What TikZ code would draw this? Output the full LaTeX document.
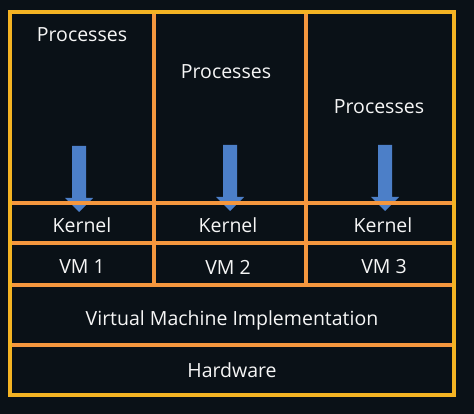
\documentclass[tikz,border=0pt]{standalone}
\usepackage{fontspec}
\setmainfont{Open Sans}
\definecolor{bg}{HTML}{0A1117}
\definecolor{frameY}{HTML}{F4B323}
\definecolor{lineO}{HTML}{F5973E}
\definecolor{arrowB}{HTML}{4C7FC8}
\tikzset{
  lbl/.style={text=white!93!gray, font=\fontsize{19.5}{22}\selectfont, inner sep=0pt},
  divline/.style={lineO, line width=3.5pt},
  downarrow/.pic={\fill[arrowB] (-7,-66) -- (7,-66) -- (7,-14) -- (14,-14) -- (0,0) -- (-14,-14) -- (-7,-14) -- cycle;},
}
\begin{document}
\begin{tikzpicture}[x=1pt,y=-1pt]
\fill[bg] (0,0) rectangle (474,414);
\useasboundingbox (0,0) rectangle (474,414);
% arrows (drawn beneath lines)
\pic (a1) at (79,212) {downarrow};
\pic (a2) at (230,211) {downarrow};
\pic (a3) at (385,211) {downarrow};
% inner lines
\draw[divline] (154,12) -- (154,285);
\draw[divline] (306,12) -- (306,285);
\draw[divline] (10,203) -- (454,203);
\draw[divline] (10,243) -- (454,243);
\draw[divline] (10,285) -- (454,285);
\draw[divline] (10,345) -- (454,345);
% outer frame
\draw[frameY, line width=3.5pt] (10,12) rectangle (454,395);
% labels
\node[lbl] (p1) at (82,35) {Processes};
\node[lbl] (p2) at (226,72) {Processes};
\node[lbl] (p3) at (379,107) {Processes};
\node[lbl] (k1) at (82,225) {Kernel};
\node[lbl] (k2) at (228,225) {Kernel};
\node[lbl] (k3) at (383,225) {Kernel};
\node[lbl] (v1) at (82,267) {VM 1};
\node[lbl] (v2) at (228,267) {VM 2};
\node[lbl] (v3) at (384,267) {VM 3};
\node[lbl] (vmi) at (232,320) {Virtual Machine Implementation};
\node[lbl] (hw) at (232,370) {Hardware};
\end{tikzpicture}
\end{document}
